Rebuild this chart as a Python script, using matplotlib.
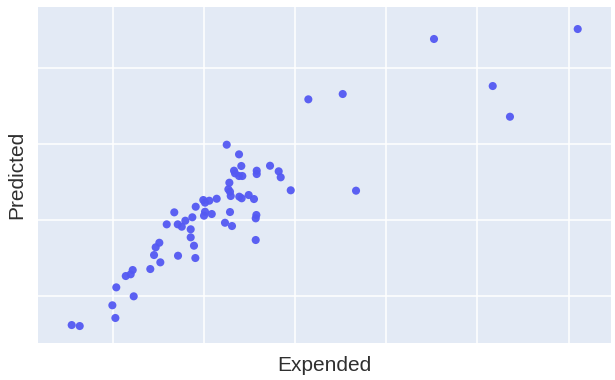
import matplotlib
matplotlib.use("Agg")
import matplotlib.pyplot as plt

plt.rcParams['font.family'] = ['Liberation Sans', 'DejaVu Sans']

# data (units chosen so gridlines fall on 10, 20, ...)
expended = [22.50, 23.85, 24.10, 27.25, 25.79, 25.79, 23.30, 23.41, 23.85, 24.21,
            28.20, 28.42, 22.79, 22.68, 22.86, 29.52, 36.68, 22.94, 23.88, 24.14,
            24.91, 25.49, 21.40, 19.93, 20.59, 20.12, 19.10, 16.75, 22.86, 20.12,
            20.01, 20.86, 18.73, 17.96, 17.13, 17.57, 18.55, 15.92, 22.31, 23.08,
            25.75, 25.68, 18.55, 18.91, 25.68, 15.11, 14.71, 14.53, 17.16, 19.06,
            15.22, 14.12, 12.19, 11.97, 11.43, 10.39, 12.30, 9.96, 10.29, 5.50,
            6.38, 45.23, 60.99, 31.45, 35.22, 51.67, 53.56]
predicted = [29.91, 28.64, 27.11, 27.14, 26.49, 26.05, 26.49, 26.14, 25.79, 25.79,
             26.41, 25.62, 24.91, 24.04, 23.72, 23.91, 23.86, 23.16, 23.07, 22.86,
             23.29, 22.76, 22.80, 22.63, 22.54, 22.28, 21.75, 21.01, 21.05, 21.09,
             20.57, 20.79, 20.36, 19.91, 19.43, 19.12, 18.78, 19.43, 19.64, 19.21,
             20.66, 20.22, 17.72, 16.62, 17.37, 17.01, 16.41, 15.39, 15.30, 15.00,
             14.43, 13.55, 13.42, 12.86, 12.63, 11.14, 9.96, 8.78, 7.11, 6.18,
             6.05, 43.82, 45.13, 35.88, 36.58, 37.63, 33.59]

fig = plt.figure(figsize=(6.15, 3.8), dpi=100)
ax = fig.add_axes([0.0626, 0.0966, 0.9309, 0.8858])
ax.set_facecolor('#E3EAF5')

ax.scatter(expended, predicted, s=34, color='#5459F2', alpha=0.95,
           edgecolors='none', zorder=3)

ax.set_xlim(1.86, 64.64)
ax.set_ylim(3.78, 48.07)
ax.set_xticks([10, 20, 30, 40, 50, 60])
ax.set_yticks([10, 20, 30, 40])
ax.set_xticklabels([])
ax.set_yticklabels([])
ax.tick_params(length=0)
ax.grid(True, color='white', linewidth=1.3, alpha=0.85)
ax.set_axisbelow(True)
for s in ax.spines.values():
    s.set_visible(False)

ax.set_xlabel('Expended', fontsize=15, color='#2f2f2f', labelpad=6)
ax.set_ylabel('Predicted', fontsize=15, color='#2f2f2f', labelpad=5)

fig.savefig('out.png', dpi=100)
